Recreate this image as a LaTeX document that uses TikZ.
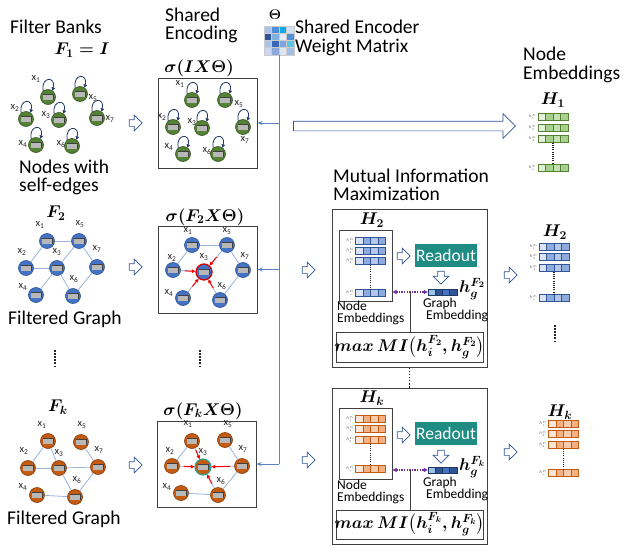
\RequirePackage{fix-cm}
\documentclass[tikz,border=0pt]{standalone}
\usepackage{amsmath}
\usepackage[no-math]{fontspec}
\setmainfont{Carlito}
\usetikzlibrary{arrows.meta,shapes.arrows,calc}
\definecolor{navy}{HTML}{203864}
\definecolor{gfill}{HTML}{548235}
\definecolor{gdraw}{HTML}{385723}
\definecolor{bfill}{HTML}{4472C4}
\definecolor{bdraw}{HTML}{2F5597}
\definecolor{ofill}{HTML}{C55A11}
\definecolor{odraw}{HTML}{843C0C}
\definecolor{edgec}{HTML}{9AB3DF}
\definecolor{linec}{HTML}{5B84C8}
\definecolor{readc}{HTML}{1F8C84}
\definecolor{purp}{HTML}{7030A0}
\definecolor{boxc}{HTML}{404040}
\definecolor{ringt}{HTML}{2AA198}
\definecolor{gA}{HTML}{E2F0D9}\definecolor{gB}{HTML}{A9D18E}\definecolor{gC}{HTML}{C5E0B4}\definecolor{gE}{HTML}{548235}
\definecolor{bA}{HTML}{DAE3F3}\definecolor{bB}{HTML}{8FAADC}\definecolor{bC}{HTML}{B4C7E7}\definecolor{bE}{HTML}{2F5597}
\definecolor{oA}{HTML}{FBE5D6}\definecolor{oB}{HTML}{F4B183}\definecolor{oC}{HTML}{F8CBAD}\definecolor{oE}{HTML}{C55A11}
\definecolor{eA}{HTML}{9DC3E6}\definecolor{eB}{HTML}{2F5597}\definecolor{eC}{HTML}{4472C4}\definecolor{eE}{HTML}{1F3864}
\definecolor{tA}{HTML}{A9C4EB}\definecolor{tB}{HTML}{4F8FD6}\definecolor{tC}{HTML}{12A9E6}\definecolor{tD}{HTML}{CFE0F4}
\definecolor{tE}{HTML}{2F5597}\definecolor{tF}{HTML}{7FB0E0}\definecolor{tG}{HTML}{E1ECF8}\definecolor{tH}{HTML}{4F8FD6}
\definecolor{tI}{HTML}{A9C4EB}\definecolor{tJ}{HTML}{3A66B8}\definecolor{tK}{HTML}{7FA6DD}\definecolor{tL}{HTML}{5EC3DE}
\definecolor{tM}{HTML}{C9D8F0}\definecolor{tN}{HTML}{8AA8DA}\definecolor{tO}{HTML}{DCE6F5}\definecolor{tP}{HTML}{A4BEE6}

\newcommand\EmbRow[9]{%
  \node[inner sep=0pt, minimum width=30pt, minimum height=7pt] (#1) at (#2,#3) {};
  \filldraw[fill=#4, draw=#8, line width=0.5pt] (#1.south west) rectangle ++(7.5pt,7pt);
  \filldraw[fill=#5, draw=#8, line width=0.5pt] ([xshift=7.5pt]#1.south west) rectangle ++(7.5pt,7pt);
  \filldraw[fill=#6, draw=#8, line width=0.5pt] ([xshift=15pt]#1.south west) rectangle ++(7.5pt,7pt);
  \filldraw[fill=#7, draw=#8, line width=0.5pt] ([xshift=22.5pt]#1.south west) rectangle ++(7.5pt,7pt);
  \node[hlab, anchor=east] (#1l) at ([xshift=-0.8pt]#1.west) {$#9$};
}
\newcommand\EmbSet[8]{%
  \EmbRow{#1a}{#2}{#3}{#7A}{#7B}{#7C}{#7B}{#7E}{h_1^{F_{#8}}}
  \EmbRow{#1b}{#2}{#4}{#7A}{#7B}{#7C}{#7B}{#7E}{h_2^{F_{#8}}}
  \EmbRow{#1c}{#2}{#5}{#7A}{#7B}{#7C}{#7B}{#7E}{h_3^{F_{#8}}}
  \EmbRow{#1d}{#2}{#6}{#7A}{#7B}{#7C}{#7B}{#7E}{h_n^{F_{#8}}}
  \draw[edot] (#1c.south) -- (#1d.north);
}
\newcommand\GNode[5]{%
  \node[#1] (#2) at (#3) {};
  \node[xl] (#2l) at (#4) {x\textsubscript{#5}};
}

\begin{document}
\begin{tikzpicture}[x=1pt,y=-1pt,
  gnbase/.style={circle, inner sep=0pt, minimum size=15pt, line width=0.6pt,
    path picture={\begin{scope}[shift={(path picture bounding box.center)}]
      \fill[black!75] (-5.5pt,-3.3pt) rectangle (5.5pt,3.3pt);
      \fill[black!28] (-4.7pt,-2.5pt) rectangle (-0.4pt,2.5pt);
      \fill[black!28] (0.4pt,-2.5pt) rectangle (4.7pt,2.5pt);
    \end{scope}}},
  gng/.style={gnbase, fill=gfill, draw=gdraw},
  gnb/.style={gnbase, fill=bfill, draw=bdraw},
  gno/.style={gnbase, fill=ofill, draw=odraw},
  xl/.style={font=\fontsize{10.5}{10}\selectfont, inner sep=0pt, text=black!85},
  selfl/.style={draw=navy, line width=0.8pt, -{Triangle[length=3.2pt,width=3.4pt]}},
  gedge/.style={draw=edgec, line width=0.8pt},
  redarr/.style={draw=red, line width=1pt, -{Triangle[length=3.5pt,width=3.5pt]}},
  hollow/.style={single arrow, draw=bdraw, fill=white, line width=0.7pt, minimum height=13pt, inner sep=3pt, single arrow head extend=4.5pt, single arrow tip angle=90},
  lbl/.style={font=\fontsize{19.5}{19}\selectfont, inner sep=0pt, anchor=base west},
  sml/.style={font=\fontsize{13.5}{12}\selectfont, inner sep=0pt, anchor=base west},
  mtitle/.style={font=\fontsize{17}{20}\selectfont\boldmath, inner sep=0pt},
  hlab/.style={font=\fontsize{4}{4}\selectfont, inner sep=0pt, text=black!70},
  gbox/.style={draw=boxc, line width=1pt, inner sep=0pt},
  bline/.style={draw=linec, line width=1pt},
  btip/.style={bline, -{Stealth[length=5pt,width=4pt]}},
  edot/.style={draw=black!85, line width=1.2pt, dash pattern=on 1.1pt off 1.1pt},
  vdot/.style={draw=black!85, line width=1.6pt, dash pattern=on 1.5pt off 1.6pt},
  purpa/.style={draw=purp, line width=1.2pt, dash pattern=on 1.3pt off 1.3pt, {Triangle[length=4pt,width=4pt]}-{Triangle[length=4pt,width=4pt]}},
  readout/.style={fill=readc, text=white, font=\fontsize{17.5}{18}\selectfont, minimum width=62pt, minimum height=23pt, inner sep=0pt},
  gembed/.style={inner sep=0pt, minimum width=29pt, minimum height=6.5pt}
]
\useasboundingbox (0,0) rectangle (627,554);
\fill[white] (0,0) rectangle (627,554);

% ---------- headings ----------
\node[lbl] (tFB) at (10,33) {Filter Banks};
\node[mtitle] (tF1) at (82,50) {$F_1=I$};
\node[lbl] (tSE1) at (165,21.5) {Shared};
\node[lbl] (tSE2) at (165,39.5) {Encoding};
\node[lbl] (tSW1) at (295,33) {Shared Encoder};
\node[lbl] (tSW2) at (295,52) {Weight Matrix};
\node[lbl] (tNE1) at (523,60) {Node};
\node[lbl] (tNE2) at (523,79) {Embeddings};
\node[lbl] (tNS1) at (19,173) {Nodes with};
\node[lbl] (tNS2) at (19,191) {self-edges};
\node[lbl] (tFG2) at (8,324) {Filtered Graph};
\node[lbl] (tFGk) at (7,524) {Filtered Graph};
\node[lbl] (tMI1) at (333,182) {Mutual Information};
\node[lbl] (tMI2) at (333,200) {Maximization};

% ---------- theta matrix ----------
\node[inner sep=0pt, minimum width=30pt, minimum height=29pt] (theta) at (279,40.5) {};
\foreach \r/\c/\col in {0/0/tA,0/1/tB,0/2/tC,0/3/tD,1/0/tE,1/1/tF,1/2/tG,1/3/tH,2/0/tI,2/1/tJ,2/2/tK,2/3/tL,3/0/tM,3/1/tN,3/2/tO,3/3/tP}
  \filldraw[fill=\col, draw=black!20, line width=0.4pt] ($(theta.north west)+(\c*7.5pt,-\r*7.25pt)$) rectangle ++(7.5pt,-7.25pt);
\node[font=\fontsize{14}{14}\selectfont\boldmath, inner sep=0pt] (tTh) at (275,15) {$\Theta$};

% ---------- left column graphs ----------
\node[mtitle] (tF2) at (56,213) {$F_2$};
\node[mtitle] (tFk) at (58,407) {$F_k$};

\GNode{gng}{a1}{48,97}{36,79}{1}
\GNode{gng}{a5}{80,94}{93,98}{5}
\GNode{gng}{a2}{26,119}{15,108}{2}
\GNode{gng}{a3}{59,120}{46,115}{3}
\GNode{gng}{a7}{97,118}{110,119}{7}
\GNode{gng}{a4}{36,145}{23,144}{4}
\GNode{gng}{a6}{72,146}{61,144}{6}

\GNode{gnb}{c1}{47,241}{40,225}{1}
\GNode{gnb}{c5}{79,241}{80,224}{5}
\GNode{gnb}{c2}{26,268}{22,252}{2}
\GNode{gnb}{c3}{57,268}{57,252}{3}
\GNode{gnb}{c7}{97,267}{97,249}{7}
\GNode{gnb}{c4}{36,295}{23,287}{4}
\GNode{gnb}{c6}{73,296}{74,279}{6}
\foreach \u/\v in {1/5,1/2,2/3,3/5,3/4,3/6,5/7,7/6} \draw[gedge] (c\u) -- (c\v);

\GNode{gno}{e1}{48,441}{42,425}{1}
\GNode{gno}{e5}{81,442}{82,425}{5}
\GNode{gno}{e2}{28,468}{24,451}{2}
\GNode{gno}{e3}{59,468}{59,453}{3}
\GNode{gno}{e7}{98,467}{99,450}{7}
\GNode{gno}{e4}{37,495}{23,487}{4}
\GNode{gno}{e6}{75,497}{77,480}{6}
\foreach \u/\v in {1/2,1/3,2/3,3/7,5/7,7/6,6/3,4/6} \draw[gedge] (e\u) -- (e\v);

\coordinate (vd1a) at (55,350); \coordinate (vd1b) at (55,368);
\draw[vdot] (vd1a) -- (vd1b);

% ---------- hollow arrows col1 -> col2 ----------
\node[hollow] (ar1) at (134,123) {};
\node[hollow] (ar2) at (134,267) {};
\node[hollow] (ar3) at (134,465) {};

% ---------- encoding boxes ----------
\node[gbox, minimum width=99pt, minimum height=90pt] (box1) at (207.5,123) {};
\node[gbox, minimum width=99pt, minimum height=87pt] (box2) at (207.5,269.5) {};
\node[gbox, minimum width=99pt, minimum height=86pt] (boxk) at (206.5,464) {};
\node[mtitle] (tB1) at (199,68) {$\sigma(IX\Theta)$};
\node[mtitle] (tB2) at (205,217) {$\sigma(F_2X\Theta)$};
\node[mtitle] (tBk) at (203,411) {$\sigma(F_kX\Theta)$};

\GNode{gng}{b1}{192,100}{180,84}{1}
\GNode{gng}{b5}{225,100}{239,104}{5}
\GNode{gng}{b2}{173,127}{162,117}{2}
\GNode{gng}{b3}{202,128}{192,122}{3}
\GNode{gng}{b7}{243,127}{245,140}{7}
\GNode{gng}{b4}{183,154}{169,147}{4}
\GNode{gng}{b6}{218,154}{207,151}{6}
\foreach \n in {a1,a2,a3,a4,a5,a6,a7,b1,b2,b3,b4,b5,b6,b7}
  \draw[selfl] (\n.128) .. controls +(100:15pt) and +(75:15pt) .. (\n.55);

\GNode{gnb}{d1}{192,245}{188,231}{1}
\GNode{gnb}{d5}{227,245}{227,231}{5}
\GNode{gnb}{d2}{173,270}{172,258}{2}
\GNode{gnb, draw=red!85!black, line width=1.3pt, minimum size=16pt}{d3}{204,272}{204,257}{3}
\GNode{gnb}{d7}{243,270}{245,256}{7}
\GNode{gnb}{d4}{183,298}{169,293}{4}
\GNode{gnb}{d6}{220,300}{222,286}{6}
\foreach \u/\v in {1/5,1/2,2/3,3/5,3/4,3/6,5/7,7/6} \draw[gedge] (d\u) -- (d\v);
\draw[redarr, shorten <=4pt] (d2) -- (d3);
\draw[redarr, shorten <=8pt] (d5) -- (d3);
\draw[redarr, shorten <=7pt] (d4) -- (d3);
\draw[redarr, shorten <=6pt] (d6) -- (d3);

\GNode{gno}{f1}{192,441}{188,424}{1}
\GNode{gno}{f5}{225,440}{228,424}{5}
\GNode{gno}{f2}{172,466}{170,451}{2}
\GNode{gno, draw=ringt, line width=1.2pt, minimum size=16pt}{f3}{203,467}{203,452}{3}
\GNode{gno}{f7}{242,466}{243,449}{7}
\GNode{gno}{f4}{181,493}{167,487}{4}
\GNode{gno}{f6}{218,495}{221,481}{6}
\foreach \u/\v in {1/2,1/3,2/3,3/7,5/7,7/6,6/3,4/6} \draw[gedge] (f\u) -- (f\v);
\draw[redarr, shorten <=2pt] (f1) -- (f3);
\draw[redarr, shorten <=4pt] (f2) -- (f3);
\draw[redarr, shorten <=4pt] (f7) -- (f3);
\draw[redarr, shorten <=5pt] (f6) -- (f3);

\coordinate (vd2a) at (200,350); \coordinate (vd2b) at (200,368);
\draw[vdot] (vd2a) -- (vd2b);

% ---------- shared weight line ----------
\coordinate (J1) at (theta.south |- box1.east);
\coordinate (J2) at (theta.south |- box2.east);
\coordinate (Jk) at (theta.south |- boxk.east);
\draw[bline] (theta.south) -- (Jk);
\draw[btip] (J1) -- (box1.east);
\draw[btip] (J2) -- (box2.east);
\draw[btip] (Jk) -- (boxk.east);

% ---------- big arrow ----------
\node[hollow, minimum height=222pt, inner sep=4.5pt, single arrow head extend=7.5pt] (bigarr) at (402,126) {};

% ---------- right H1 ----------
\node[mtitle] (tH1) at (553,100) {$H_1$};
\EmbSet{hA}{553}{117}{128}{139}{168}{g}{1}

% ---------- column 3 arrows ----------
\node[hollow] (ar4) at (307,270) {};
\node[hollow] (ar5) at (307,460) {};

% ---------- MI box 2 ----------
\node[gbox, minimum width=155pt, minimum height=158pt] (mi2) at (409.5,288) {};
\node[mtitle] (tHm2) at (372,220) {$H_2$};
\node[gbox, minimum width=53pt, minimum height=71pt] (in2) at (365.5,265.5) {};
\EmbSet{hB}{370.5}{241}{251}{261}{293}{b}{2}
\node[sml] (tN2a) at (337,310) {Node};
\node[sml] (tN2b) at (337,322) {Embeddings};
\node[hollow] (ar6) at (402,256) {};
\node[readout] (ro2) at (446,255.5) {Readout};
\node[hollow, shape border rotate=270] (ar7) at (441,276) {};
\node[gembed] (ge2) at (442.5,292) {};
\filldraw[fill=eA, draw=eE, line width=0.5pt] (ge2.south west) rectangle ++(7.25pt,6.5pt);
\filldraw[fill=eB, draw=eE, line width=0.5pt] ([xshift=7.25pt]ge2.south west) rectangle ++(7.25pt,6.5pt);
\filldraw[fill=eC, draw=eE, line width=0.5pt] ([xshift=14.5pt]ge2.south west) rectangle ++(7.25pt,6.5pt);
\filldraw[fill=eB, draw=eE, line width=0.5pt] ([xshift=21.75pt]ge2.south west) rectangle ++(7.25pt,6.5pt);
\node[mtitle, anchor=west] (thg2) at (459,289) {$h_g^{F_2}$};
\node[sml] (tG2a) at (423,307) {Graph};
\node[sml] (tG2b) at (426,319.5) {Embedding};
\coordinate (pa2) at (in2.east |- ge2.west);
\draw[purpa] (pa2) -- (ge2.west);
\coordinate (m2) at ($(pa2)!0.5!(ge2.west)$);
\node[gbox, minimum width=147pt, minimum height=30pt] (mx2) at (409.5,347) {};
\node[mtitle] (tmx2) at (mx2.center) {$max\,MI\bigl(h_i^{F_2},h_g^{F_2}\bigr)$};
\draw[boxc, line width=0.8pt] (m2) -- (m2 |- mx2.north);

% ---------- MI box k ----------
\node[gbox, minimum width=155pt, minimum height=156pt] (mik) at (409.5,466) {};
\draw[vdot] (mi2.south) -- (mik.north);
\node[mtitle] (tHmk) at (372,398) {$H_k$};
\node[gbox, minimum width=53pt, minimum height=71pt] (ink) at (365.5,443.5) {};
\EmbSet{hC}{370.5}{419}{429}{440}{469}{o}{k}
\node[sml] (tNka) at (337,489) {Node};
\node[sml] (tNkb) at (337,501) {Embeddings};
\node[hollow] (ar8) at (402,435) {};
\node[readout] (rok) at (446,433.5) {Readout};
\node[hollow, shape border rotate=270] (ar9) at (441,455) {};
\node[gembed] (gek) at (442.5,470) {};
\filldraw[fill=eA, draw=eE, line width=0.5pt] (gek.south west) rectangle ++(7.25pt,6.5pt);
\filldraw[fill=eB, draw=eE, line width=0.5pt] ([xshift=7.25pt]gek.south west) rectangle ++(7.25pt,6.5pt);
\filldraw[fill=eC, draw=eE, line width=0.5pt] ([xshift=14.5pt]gek.south west) rectangle ++(7.25pt,6.5pt);
\filldraw[fill=eB, draw=eE, line width=0.5pt] ([xshift=21.75pt]gek.south west) rectangle ++(7.25pt,6.5pt);
\node[mtitle, anchor=west] (thgk) at (459,467) {$h_g^{F_k}$};
\node[sml] (tGka) at (423,486) {Graph};
\node[sml] (tGkb) at (426,498.5) {Embedding};
\coordinate (pak) at (ink.east |- gek.west);
\draw[purpa] (pak) -- (gek.west);
\coordinate (mk) at ($(pak)!0.5!(gek.west)$);
\node[gbox, minimum width=147pt, minimum height=29pt] (mxk) at (409.5,524.5) {};
\node[mtitle] (tmxk) at (mxk.center) {$max\,MI\bigl(h_i^{F_k},h_g^{F_k}\bigr)$};
\draw[boxc, line width=0.8pt] (mk) -- (mk |- mxk.north);

% ---------- right column ----------
\node[hollow] (ar10) at (509,275) {};
\node[hollow] (ar11) at (509,452) {};
\node[mtitle] (tHr2) at (555,232) {$H_2$};
\EmbSet{hD}{554}{247}{257}{268}{298}{b}{2}
\coordinate (vd3a) at (555,325); \coordinate (vd3b) at (555,342);
\draw[vdot] (vd3a) -- (vd3b);
\node[mtitle] (tHrk) at (560,412) {$H_k$};
\EmbSet{hE}{563.5}{424}{434}{445}{473}{o}{k}
\end{tikzpicture}
\end{document}
